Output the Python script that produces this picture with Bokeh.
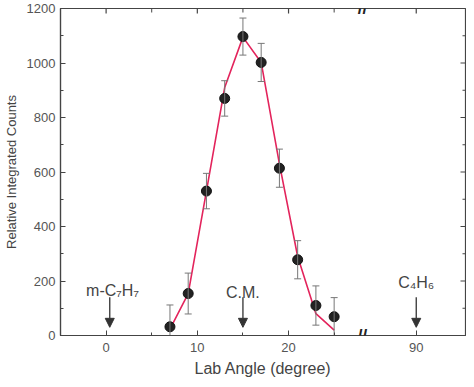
import math
from bokeh.plotting import figure
from bokeh.models import (Range1d, FixedTicker, Whisker, TeeHead, ColumnDataSource,
                          Arrow, NormalHead, Label)
from bokeh.embed import file_html
from bokeh.resources import INLINE

# ---- data ----
angles = [7, 9, 11, 13, 15, 17, 19, 21, 23, 25]
counts = [32, 154, 530, 870, 1097, 1002, 614, 278, 110, 69]
errors = [80, 75, 65, 65, 68, 70, 70, 70, 72, 70]
fit_counts = [23, 154, 530, 910, 1095, 1002, 630, 290, 80, 20]

x_tick_values = [0, 10, 20, 90]
x_minor_values = [5, 15, 25]
y_tick_values = [0, 200, 400, 600, 800, 1000, 1200]
y_minor_values = [100, 300, 500, 700, 900, 1100]

marker_names = ["m-C\u2087H\u2087", "C.M.", "C\u2084H\u2086"]
marker_angles = [0.4, 15, 90]
marker_label_y = [165, 158, 193]

# broken axis: values beyond the break are shifted left
BREAK_DISPLAY = 28.1
SHIFT = 56
X_MIN, X_MAX = -5.0, 39.4
Y_MIN, Y_MAX = 0, 1200


def disp(x):
    return x if x <= 27 else x - SHIFT


AX = "#444444"
TXT = "#555555"
FONT = "Liberation Sans"

p = figure(width=466, height=379, output_backend="svg", toolbar_location=None,
           x_range=Range1d(X_MIN, X_MAX), y_range=Range1d(Y_MIN, Y_MAX),
           min_border_left=58, min_border_right=1, min_border_top=8, min_border_bottom=40)
p.grid.visible = False
p.outline_line_color = AX
p.outline_line_width = 1.2
p.background_fill_color = "white"
p.border_fill_color = "white"

tick_disp = [disp(v) for v in x_tick_values]
minor_disp = [disp(v) for v in x_minor_values]
xticker = FixedTicker(ticks=tick_disp, minor_ticks=minor_disp)
yticker = FixedTicker(ticks=y_tick_values, minor_ticks=y_minor_values)


def style_axis(ax):
    ax.axis_line_color = AX
    ax.axis_line_width = 1.2
    ax.major_tick_line_color = AX
    ax.minor_tick_line_color = AX
    ax.major_tick_in = 5
    ax.major_tick_out = 0
    ax.minor_tick_in = 3
    ax.minor_tick_out = 0
    ax.major_label_text_font = FONT
    ax.major_label_text_font_size = "13px"
    ax.major_label_text_color = TXT
    ax.axis_label_text_font = FONT
    ax.axis_label_text_font_style = "normal"
    ax.axis_label_text_color = "#444444"


xa = p.xaxis[0]
xa.ticker = xticker
xa.major_label_overrides = {disp(v): str(v) for v in x_tick_values}
xa.axis_label = "Lab Angle (degree)"
xa.axis_label_standoff = 5
xa.major_label_standoff = 7
style_axis(xa)
xa.axis_label_text_font_size = "16px"

ya = p.yaxis[0]
ya.ticker = yticker
ya.axis_label = "Relative Integrated Counts"
ya.axis_label_standoff = 5
ya.major_label_standoff = 5
style_axis(ya)
ya.axis_label_text_font_size = "13px"

# inward ticks on the top and right frame edges (half of each dash is clipped away)
p.scatter(x=[X_MAX] * len(y_tick_values), y=y_tick_values, marker="dash", size=10,
          line_color=AX, line_width=1.2)
p.scatter(x=[X_MAX] * len(y_minor_values), y=y_minor_values, marker="dash", size=6,
          line_color=AX, line_width=1)
p.scatter(x=tick_disp, y=[Y_MAX] * len(tick_disp), marker="dash", size=10, angle=math.pi / 2,
          line_color=AX, line_width=1.2)
p.scatter(x=minor_disp, y=[Y_MAX] * len(minor_disp), marker="dash", size=8, angle=math.pi / 2,
          line_color=AX, line_width=1)

# ---- data glyphs ----
xs = [disp(a) for a in angles]
src = ColumnDataSource(dict(
    x=xs, y=counts, fit=fit_counts,
    lower=[c - e for c, e in zip(counts, errors)],
    upper=[c + e for c, e in zip(counts, errors)],
))

wh = Whisker(source=src, base="x", lower="lower", upper="upper", dimension="height",
             line_color="#777777", line_width=1,
             upper_head=TeeHead(size=7, line_color="#777777", line_width=1),
             lower_head=TeeHead(size=7, line_color="#777777", line_width=1),
             level="glyph")
p.add_layout(wh)

p.line("x", "fit", source=src, line_color="#e3245c", line_width=1.6)
p.scatter("x", "y", source=src, size=10, fill_color="#222222", line_color="#111111")

# ---- markers with arrows ----
for name, ang, ly in zip(marker_names, marker_angles, marker_label_y):
    xd = disp(ang)
    p.add_layout(Arrow(x_start=xd, y_start=140, x_end=xd, y_end=30,
                       line_color="#333333", line_width=1.3,
                       end=NormalHead(size=9, fill_color="#333333", line_color="#333333")))
    p.add_layout(Label(x=xd + (0.3 if ang == 0.4 else 0), y=ly, text=name,
                       text_align="center", text_baseline="alphabetic",
                       text_font=FONT, text_font_size="16px", text_color="#444444"))

# ---- axis break marks ----
for yb in [Y_MIN, Y_MAX]:
    p.add_layout(Label(x=BREAK_DISPLAY, y=yb, text="//", text_align="center",
                       text_baseline="middle", text_font=FONT, text_font_size="17px",
                       text_font_style="bold", text_color="#222222"))

open("out.html", "w").write(file_html(p, INLINE))
